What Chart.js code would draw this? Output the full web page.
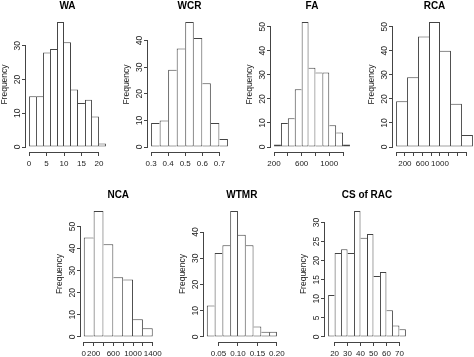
<!DOCTYPE html>
<html><head><meta charset="utf-8">
<script src="https://cdn.jsdelivr.net/npm/chart.js@4.4.1/dist/chart.umd.min.js"></script>
<style>
html,body{margin:0;padding:0;background:#fff;width:474px;height:357px;overflow:hidden;position:relative}
.p{position:absolute}
</style></head><body>
<script>
// ---------------- data ----------------
const waEdges   = [0,2,4,6,8,10,12,14,16,18,20,22];
const waCounts  = [15,15,28,29,37,31,17,13,14,9,1];
const waXTicks  = [0,5,10,15,20];
const waXLabels = ['0','5','10','15','20'];
const waYTicks  = [0,10,20,30];

const wcrEdges   = [0.30,0.35,0.40,0.45,0.50,0.55,0.60,0.65,0.70,0.75];
const wcrCounts  = [9,10,29,37,47,41,24,9,3];
const wcrXTicks  = [0.3,0.4,0.5,0.6,0.7];
const wcrXLabels = ['0.3','0.4','0.5','0.6','0.7'];
const wcrYTicks  = [0,10,20,30,40];

const faEdges   = [200,300,400,500,600,700,800,900,1000,1100,1200,1300];
const faCounts  = [1,10,12,24,52,33,31,31,9,6,1];
const faXTicks  = [200,400,600,800,1000,1200];
const faXLabels = ['200','','600','','1000',''];
const faYTicks  = [0,10,20,30,40,50];

const rcaEdges   = [0,250,500,750,1000,1250,1500,1750];
const rcaCounts  = [19,29,46,52,40,18,5];
const rcaXTicks  = [0,200,400,600,800,1000,1200,1400,1600];
const rcaXLabels = ['','200','','600','','1000','','',''];
const rcaYTicks  = [0,10,20,30,40,50];

const ncaEdges   = [0,200,400,600,800,1000,1200,1400];
const ncaCounts  = [45,57,42,27,26,8,4];
const ncaXTicks  = [0,200,400,600,800,1000,1200,1400];
const ncaXLabels = ['0','200','','600','','1000','','1400'];
const ncaYTicks  = [0,10,20,30,40,50];

const wtmrEdges   = [0.02,0.04,0.06,0.08,0.10,0.12,0.14,0.16,0.18,0.20];
const wtmrCounts  = [12,32,35,48,39,35,4,2,2];
const wtmrXTicks  = [0.05,0.10,0.15,0.20];
const wtmrXLabels = ['0.05','0.10','0.15','0.20'];
const wtmrYTicks  = [0,10,20,30,40];

const csEdges   = [15,20,25,30,35,40,45,50,55,60,65,70,75];
const csCounts  = [11,22,23,22,33,26,27,16,17,7,3,2];
const csXTicks  = [20,30,40,50,60,70];
const csXLabels = ['20','30','40','50','60','70'];
const csYTicks  = [0,5,10,15,20,25,30];

const titles = ['WA','WCR','FA','RCA','NCA','WTMR','CS of RAC'];

// ---------------- layout (plot regions in page pixels) ----------------
const panels = [
  {title:titles[0], edges:waEdges,   counts:waCounts,   xt:waXTicks,   xl:waXLabels,   yt:waYTicks,   box:[26,17,109,152]},
  {title:titles[1], edges:wcrEdges,  counts:wcrCounts,  xt:wcrXTicks,  xl:wcrXLabels,  yt:wcrYTicks,  box:[148,17,231,152]},
  {title:titles[2], edges:faEdges,   counts:faCounts,   xt:faXTicks,   xl:faXLabels,   yt:faYTicks,   box:[271,17,353,152]},
  {title:titles[3], edges:rcaEdges,  counts:rcaCounts,  xt:rcaXTicks,  xl:rcaXLabels,  yt:rcaYTicks,  box:[393,17,476,152]},
  {title:titles[4], edges:ncaEdges,  counts:ncaCounts,  xt:ncaXTicks,  xl:ncaXLabels,  yt:ncaYTicks,  box:[81,206,163,342]},
  {title:titles[5], edges:wtmrEdges, counts:wtmrCounts, xt:wtmrXTicks, xl:wtmrXLabels, yt:wtmrYTicks, box:[204,206,286,342]},
  {title:titles[6], edges:csEdges,   counts:csCounts,   xt:csXTicks,   xl:csXLabels,   yt:csYTicks,   box:[325,206,409,342]}
];

const L = 28, R = 2, T = 17, B = 20;
const LINE = '#444', TXT = '#222';
const FONT = "'Liberation Sans', Arial, Helvetica, sans-serif";
Chart.defaults.font.family = FONT;

// R-style axis line: spans only from first to last tick
const rAxis = {
  id: 'rAxis',
  afterDraw(chart) {
    const ctx = chart.ctx, xs = chart.scales.x, ys = chart.scales.y;
    ctx.save();
    ctx.strokeStyle = LINE; ctx.lineWidth = 1;
    const al = p => Math.round(p - 0.5) + 0.5;
    const xt = xs.ticks, yt = ys.ticks;
    const xa = al(xs.getPixelForValue(xt[0].value)), xb = al(xs.getPixelForValue(xt[xt.length-1].value));
    const yy = Math.round(xs.top) + 0.5;
    ctx.beginPath(); ctx.moveTo(xa, yy); ctx.lineTo(xb, yy); ctx.stroke();
    const ya = al(ys.getPixelForValue(yt[0].value)), yb = al(ys.getPixelForValue(yt[yt.length-1].value));
    const xx = Math.round(ys.right) - 0.5;
    ctx.beginPath(); ctx.moveTo(xx, ya); ctx.lineTo(xx, yb); ctx.stroke();
    ctx.restore();
  }
};

function makeChart(p) {
  const [rl, rt, rr, rb] = p.box;
  const left = Math.round(rl - L), top = Math.round(rt - T);
  const w = Math.round(rr + R) - left, h = Math.round(rb + B) - top;
  const div = document.createElement('div');
  div.className = 'p';
  div.style.left = left + 'px'; div.style.top = top + 'px';
  div.style.width = w + 'px'; div.style.height = h + 'px';
  const cv = document.createElement('canvas');
  div.appendChild(cv); document.body.appendChild(div);

  const e = p.edges, c = p.counts;
  const pts = c.map((v, i) => ({x: (e[i] + e[i+1]) / 2, y: v}));
  const x0 = e[0], x1 = e[e.length-1], span = x1 - x0;
  const ymax = Math.max(...c);
  const binW = e[1] - e[0];
  let minTick = Infinity;
  for (let i = 1; i < p.xt.length; i++) minTick = Math.min(minTick, p.xt[i] - p.xt[i-1]);
  const barPct = binW / Math.min(binW, minTick);

  const grid = {display:true, drawOnChartArea:false, drawTicks:true, tickLength:4, color:LINE, lineWidth:1, offset:false};

  new Chart(cv, {
    type: 'bar',
    data: { datasets: [{
      data: pts,
      backgroundColor: '#ffffff',
      borderColor: LINE,
      borderSkipped: false,
      inflateAmount: 0,
      barPercentage: barPct,
      categoryPercentage: 1,
      borderWidth: ctx => {
        if (ctx.type !== 'data') return 1;
        const i = ctx.dataIndex;
        const prev = i > 0 ? c[i-1] : -1;
        const next = i < c.length - 1 ? c[i+1] : -1;
        return {top:1, bottom:1, left: c[i] >= prev ? 1 : 0, right: c[i] > next ? 1 : 0};
      }
    }]},
    options: {
      responsive: true, maintainAspectRatio: false, animation: false, devicePixelRatio: 1,
      events: [],
      layout: { padding: {left:0, right:R, top:0, bottom:0} },
      plugins: {
        legend: {display:false}, tooltip: {enabled:false},
        title: { display:true, text:p.title, fullSize:false, color:'#000',
                 font:{size:10, weight:'bold', family:FONT, lineHeight:1.2},
                 padding:{top:0, bottom:T - 12} }
      },
      scales: {
        x: {
          type:'linear', bounds:'data', offset:false,
          min: x0 - 0.04 * span, max: x1 + 0.04 * span,
          afterBuildTicks: s => { s.ticks = p.xt.map(v => ({value:v})); },
          afterFit: s => { s.height = B; },
          ticks: { autoSkip:false, minRotation:0, maxRotation:0, padding:3, color:TXT,
                   font:{size:8, family:FONT}, callback:(v, i) => p.xl[i] },
          grid: grid, border: {display:false}
        },
        y: {
          type:'linear', bounds:'data',
          min: -0.04 * ymax, max: 1.04 * ymax,
          afterBuildTicks: s => { s.ticks = p.yt.map(v => ({value:v})); },
          afterFit: s => { s.width = L; },
          ticks: { autoSkip:false, minRotation:90, maxRotation:90, crossAlign:'center', padding:0,
                   color:TXT, font:{size:8.5, family:FONT}, callback: v => String(v) },
          grid: grid, border: {display:false},
          title: { display:true, text:'Frequency', color:TXT, font:{size:8.5, family:FONT}, padding:{top:1.5, bottom:0} }
        }
      }
    },
    plugins: [rAxis]
  });
}

panels.forEach(makeChart);
</script>
</body></html>
